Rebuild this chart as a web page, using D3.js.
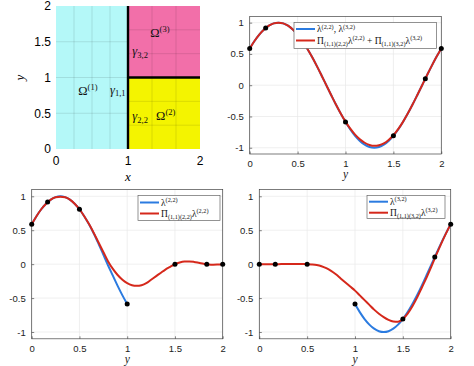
<!DOCTYPE html>
<html><head><meta charset="utf-8">
<script src="https://cdn.jsdelivr.net/npm/d3@7"></script>
<style>body{margin:0;background:#fff}svg{display:block}</style>
</head><body>
<svg id="c" width="474" height="366"></svg>
<script>
// ---------- data ----------
const domainTicks = [0, 1, 2];
const domainYTicks = [0, 0.5, 1, 1.5, 2];
const xTicks = [0, 0.5, 1, 1.5, 2];
const yTicks = [-1, -0.5, 0, 0.5, 1];

const regions = [
  {name: "1", x0: 0, x1: 1, y0: 0, y1: 2, color: "#b4f8f8"},
  {name: "2", x0: 1, x1: 2, y0: 0, y1: 1, color: "#f4f400"},
  {name: "3", x0: 1, x1: 2, y0: 1, y1: 2, color: "#f26fa9"}
];
const meshX1 = [0.25, 0.5, 0.75];
const meshY1 = [0.5, 1, 1.5];
const meshX23 = [4/3, 5/3];
const meshY2 = [1/3, 2/3];
const meshY3 = [4/3, 5/3];
const interfaces = [[[1, 0], [1, 2]], [[1, 1], [2, 1]]];
const regionLabels = [
  {kind: "Ω", sup: "(3)", x: 1.31, y: 1.56},
  {kind: "γ", sub: "3,2", x: 1.06, y: 1.31},
  {kind: "Ω", sup: "(1)", x: 0.31, y: 0.755},
  {kind: "γ", sub: "1,1", x: 0.75, y: 0.77},
  {kind: "γ", sub: "2,2", x: 1.06, y: 0.405},
  {kind: "Ω", sup: "(2)", x: 1.39, y: 0.405}
];

const s = [0,0.05,0.1,0.15,0.2,0.25,0.3,0.35,0.4,0.45,0.5,0.55,0.6,0.65,0.7,0.75,0.8,0.85,0.9,0.95,
           1,1.05,1.1,1.15,1.2,1.25,1.3,1.35,1.4,1.45,1.5,1.55,1.6,1.65,1.7,1.75,1.8,1.85,1.9,1.95,2];
const lambdaFull = [0.588,0.707,0.809,0.891,0.951,0.988,1,0.988,0.951,0.891,0.809,0.707,0.588,0.454,0.309,0.156,0,-0.156,-0.309,-0.454,
           -0.588,-0.707,-0.809,-0.891,-0.951,-0.988,-1,-0.988,-0.951,-0.891,-0.809,-0.707,-0.588,-0.454,-0.309,-0.156,0,0.156,0.309,0.454,0.588];
const p2Red = [0.588,0.707,0.809,0.891,0.951,0.988,1,0.988,0.951,0.891,0.809,0.707,0.588,0.454,0.309,0.156,0,-0.156,-0.309,-0.452,
           -0.582,-0.695,-0.79,-0.865,-0.92,-0.955,-0.97,-0.96,-0.93,-0.875,-0.8,-0.703,-0.586,-0.454,-0.309,-0.156,0,0.156,0.309,0.454,0.588];
const s3Blue = [0,0.05,0.1,0.15,0.2,0.25,0.3,0.35,0.4,0.45,0.5,0.55,0.6,0.65,0.7,0.75,0.8,0.85,0.9,0.95,1];
const p3Blue = [0.588,0.707,0.809,0.891,0.951,0.988,1,0.988,0.951,0.891,0.809,0.707,0.588,0.452,0.30,0.14,-0.02,-0.17,-0.32,-0.46,-0.588];
const p3Red = [0.588,0.707,0.809,0.891,0.951,0.985,0.995,0.985,0.951,0.891,0.809,0.707,0.59,0.46,0.32,0.18,0.04,-0.07,-0.16,-0.23,
           -0.28,-0.31,-0.32,-0.31,-0.28,-0.23,-0.18,-0.13,-0.08,-0.04,0,0.025,0.038,0.04,0.033,0.02,0.006,-0.004,-0.008,-0.005,0];
const s4Blue = [1,1.05,1.1,1.15,1.2,1.25,1.3,1.35,1.4,1.45,1.5,1.55,1.6,1.65,1.7,1.75,1.8,1.85,1.9,1.95,2];
const p4Blue = [-0.588,-0.707,-0.809,-0.891,-0.951,-0.988,-1,-0.988,-0.951,-0.891,-0.809,-0.707,-0.588,-0.454,-0.309,-0.156,0,0.156,0.309,0.454,0.588];
const p4Red = [0,0,0,0,0,0.002,0.003,0.003,0.002,0.001,0,-0.004,-0.012,-0.03,-0.06,-0.10,-0.15,-0.21,-0.27,-0.33,
           -0.39,-0.46,-0.53,-0.60,-0.67,-0.73,-0.78,-0.82,-0.845,-0.85,-0.81,-0.73,-0.62,-0.49,-0.34,-0.19,-0.03,0.14,0.30,0.45,0.588];

const nodes = [0, 1/6, 0.5, 1, 1.5, 11/6, 2];
const p2Marks = [0.588, 0.914, 0.809, -0.588, -0.809, 0.105, 0.588];
const p3Marks = [0.588, 0.914, 0.809, -0.588, 0, 0, 0];
const p4Marks = [0, 0, 0, -0.588, -0.809, 0.105, 0.588];

const BLUE = "#2b7be0", RED = "#d5281b";
const svg = d3.select("#c");
const SANS = "Liberation Sans, Arial, sans-serif";
const SERIF = "Liberation Serif, Times New Roman, serif";

// ---------- panel 1 ----------
{
  const x = d3.scaleLinear([0, 2], [56, 200]);
  const y = d3.scaleLinear([0, 2], [149, 6]);
  const g = svg.append("g");
  g.selectAll("rect.reg").data(regions).join("rect")
    .attr("x", d => x(d.x0)).attr("y", d => y(d.y1))
    .attr("width", d => x(d.x1) - x(d.x0)).attr("height", d => y(d.y0) - y(d.y1))
    .attr("fill", d => d.color);
  const mesh = g.append("g").attr("stroke", "rgba(0,0,0,0.13)").attr("stroke-width", 0.8);
  meshX1.forEach(v => mesh.append("line").attr("x1", x(v)).attr("x2", x(v)).attr("y1", y(0)).attr("y2", y(2)));
  meshY1.forEach(v => mesh.append("line").attr("x1", x(0)).attr("x2", x(1)).attr("y1", y(v)).attr("y2", y(v)));
  meshX23.forEach(v => mesh.append("line").attr("x1", x(v)).attr("x2", x(v)).attr("y1", y(0)).attr("y2", y(2)));
  meshY2.concat(meshY3).forEach(v => mesh.append("line").attr("x1", x(1)).attr("x2", x(2)).attr("y1", y(v)).attr("y2", y(v)));
  interfaces.forEach(l => g.append("line")
    .attr("x1", x(l[0][0])).attr("y1", y(l[0][1])).attr("x2", x(l[1][0])).attr("y2", y(l[1][1]))
    .attr("stroke", "#000").attr("stroke-width", 2.4));
  g.selectAll("text.xt").data(domainTicks).join("text")
    .attr("x", d => x(d)).attr("y", 165).attr("text-anchor", "middle")
    .attr("font-family", SANS).attr("font-size", 12).text(d => d);
  g.selectAll("text.yt").data(domainYTicks).join("text")
    .attr("x", 51).attr("y", d => y(d) + 4.3).attr("text-anchor", "end")
    .attr("font-family", SANS).attr("font-size", 12).text(d => d);
  g.append("text").attr("x", x(1)).attr("y", 181).attr("text-anchor", "middle")
    .attr("font-family", SERIF).attr("font-style", "italic").attr("font-size", 13).text("x");
  g.append("text").attr("transform", `translate(24,${y(1)}) rotate(-90)`).attr("text-anchor", "middle")
    .attr("font-family", SERIF).attr("font-style", "italic").attr("font-size", 13).text("y");
  regionLabels.forEach(l => {
    const t = g.append("text").attr("x", x(l.x)).attr("y", y(l.y))
      .attr("font-family", SERIF).attr("font-size", 12.5).attr("fill", "#111");
    if (l.kind === "Ω") {
      t.append("tspan").text("Ω");
      t.append("tspan").attr("dy", -5).attr("font-size", 8.5).text(l.sup);
    } else {
      t.append("tspan").attr("font-style", "italic").text("γ");
      t.append("tspan").attr("dy", 2.5).attr("font-size", 8.5).text(l.sub);
    }
  });
}

// ---------- helpers for line panels ----------
function mathText(sel, parts, fs) {
  sel.selectAll("tspan").remove();
  sel.attr("font-size", fs);
  let shift = 0;
  parts.forEach(([txt, type]) => {
    const target = type === "sup" ? -fs * 0.36 : type === "sub" ? fs * 0.24 : 0;
    const ts = sel.append("tspan").attr("dy", target - shift).text(txt);
    if (type !== "n") ts.attr("font-size", fs * 0.66);
    shift = target;
  });
}
const lamParts = (a) => [["λ", "n"], [a, "sup"]];
const piParts = (a, b) => [["Π", "n"], [a, "sub"], ["λ", "n"], [b, "sup"]];

function linePanel(xr, yr, series, marks, legend) {
  const x = d3.scaleLinear([0, 2], xr);
  const y = d3.scaleLinear([-1.1, 1.1], yr);
  const g = svg.append("g");
  const id = "clip" + Math.round(xr[0]) + Math.round(yr[0]);
  g.append("clipPath").attr("id", id).append("rect")
    .attr("x", xr[0]).attr("y", yr[1]).attr("width", xr[1] - xr[0]).attr("height", yr[0] - yr[1]);
  const grid = g.append("g").attr("stroke", "#e8e8e8").attr("stroke-width", 0.7);
  xTicks.forEach(v => grid.append("line").attr("x1", x(v)).attr("x2", x(v)).attr("y1", yr[0]).attr("y2", yr[1]));
  yTicks.forEach(v => grid.append("line").attr("x1", xr[0]).attr("x2", xr[1]).attr("y1", y(v)).attr("y2", y(v)));
  const ax = g.append("g").attr("transform", `translate(0,${yr[0]})`)
    .call(d3.axisBottom(x).tickValues(xTicks).tickFormat(d => String(d)).tickSizeInner(-2.5).tickSizeOuter(0).tickPadding(6));
  const ay = g.append("g").attr("transform", `translate(${xr[0]},0)`)
    .call(d3.axisLeft(y).tickValues(yTicks).tickFormat(d => String(d)).tickSizeInner(-2.5).tickSizeOuter(0).tickPadding(6));
  [ax, ay].forEach(a => {
    a.select(".domain").remove();
    a.selectAll("line").attr("stroke", "#333").attr("stroke-width", 0.6);
    a.selectAll("text").attr("font-family", SANS).attr("font-size", 9.5).attr("fill", "#222");
  });
  g.append("rect").attr("x", xr[0]).attr("y", yr[1]).attr("width", xr[1] - xr[0]).attr("height", yr[0] - yr[1])
    .attr("fill", "none").attr("stroke", "#444").attr("stroke-width", 0.7);
  g.append("text").attr("x", (xr[0] + xr[1]) / 2).attr("y", yr[0] + 24).attr("text-anchor", "middle")
    .attr("font-family", SERIF).attr("font-style", "italic").attr("font-size", 11.5).attr("fill", "#222").text("y");
  const line = d3.line().x(d => x(d[0])).y(d => y(d[1])).curve(d3.curveMonotoneX);
  const cg = g.append("g").attr("clip-path", `url(#${id})`);
  series.forEach(se => cg.append("path").attr("d", line(se.xs.map((v, i) => [v, se.ys[i]])))
    .attr("fill", "none").attr("stroke", se.color).attr("stroke-width", 2));
  g.selectAll("circle.m").data(nodes.map((v, i) => [v, marks[i]])).join("circle")
    .attr("cx", d => x(d[0])).attr("cy", d => y(d[1])).attr("r", 2.5).attr("fill", "#000");
  // legend
  const L = legend;
  const lg = g.append("g");
  lg.append("rect").attr("x", L.x).attr("y", L.y).attr("width", L.w).attr("height", L.h)
    .attr("fill", "#fff").attr("stroke", "#666").attr("stroke-width", 0.7);
  L.items.forEach((it, i) => {
    const yy = L.y + L.r0 + i * L.dr;
    lg.append("line").attr("x1", L.x + 2).attr("x2", L.x + 21).attr("y1", yy).attr("y2", yy)
      .attr("stroke", it.color).attr("stroke-width", 2);
    const t = lg.append("text").attr("x", L.x + 23).attr("y", yy + 3.2)
      .attr("font-family", SERIF).attr("fill", "#111");
    let fs = 9.5;
    mathText(t, it.parts, fs);
    const avail = L.w - 25;
    const len = t.node().getComputedTextLength();
    if (len > avail) { fs = fs * avail / len; mathText(t, it.parts, fs); }
  });
}

linePanel([249.7, 441.3], [154, 16.4],
  [{xs: s, ys: lambdaFull, color: BLUE}, {xs: s, ys: p2Red, color: RED}],
  p2Marks,
  {x: 294, y: 22.5, w: 142.5, h: 26, r0: 6.5, dr: 11.5, items: [
    {color: BLUE, parts: [...lamParts("(2,2)"), [", ", "n"], ...lamParts("(3,2)")]},
    {color: RED, parts: [...piParts("(1,1)(2,2)", "(2,2)"), [" + ", "n"], ...piParts("(1,1)(3,2)", "(3,2)")]}
  ]});

linePanel([31.7, 222.7], [338.8, 189.5],
  [{xs: s3Blue, ys: p3Blue, color: BLUE}, {xs: s, ys: p3Red, color: RED}],
  p3Marks,
  {x: 138, y: 195.5, w: 82, h: 25, r0: 7, dr: 11, items: [
    {color: BLUE, parts: lamParts("(2,2)")},
    {color: RED, parts: piParts("(1,1)(2,2)", "(2,2)")}
  ]});

linePanel([259.3, 450.7], [338.8, 189.5],
  [{xs: s4Blue, ys: p4Blue, color: BLUE}, {xs: s, ys: p4Red, color: RED}],
  p4Marks,
  {x: 367, y: 195.5, w: 78, h: 23, r0: 6.2, dr: 11, items: [
    {color: BLUE, parts: lamParts("(3,2)")},
    {color: RED, parts: piParts("(1,1)(3,2)", "(3,2)")}
  ]});
</script>
</body></html>
